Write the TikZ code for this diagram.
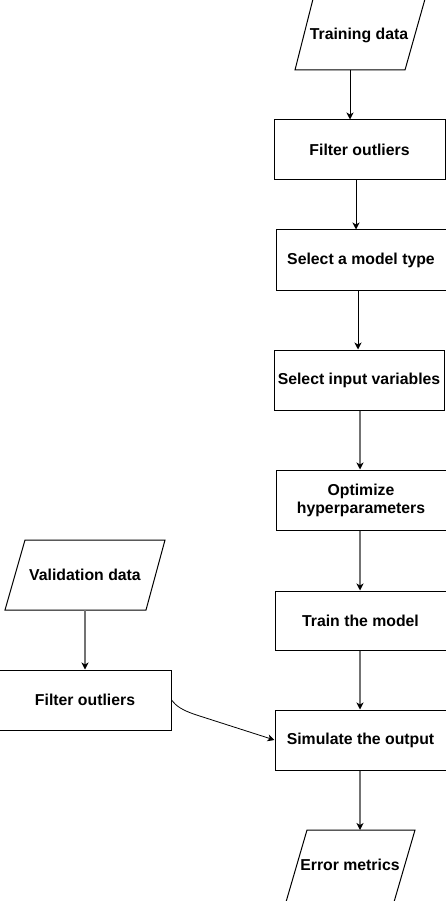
\documentclass[tikz,border=0pt]{standalone}
\usepackage{fontspec}
\setmainfont{Liberation Sans}
\usetikzlibrary{arrows.meta}
\tikzset{
  lbl/.style={inner sep=0pt, align=center, font=\bfseries\fontsize{15.8}{18}\selectfont},
  box/.style={lbl, draw=black, line width=1pt, fill=white, minimum width=171pt, minimum height=60pt},
  para/.style={draw=black, line width=1pt},
  blk/.style={draw=black, line width=1pt, -{Stealth[length=7pt,width=7pt,inset=2pt]}},
  gry/.style={draw=black!55, line width=1.3pt, -{Stealth[length=7pt,width=7pt,inset=2pt,color=black]}},
  thn/.style={draw=black, line width=0.8pt, -{Stealth[length=7pt,width=7pt,inset=2pt]}}
}
\begin{document}
\begin{tikzpicture}[x=1pt,y=-1pt]
\fill[white] (0,0) rectangle (446,901);
\useasboundingbox (0,0) rectangle (446,901);
% parallelograms
\draw[para] (313,-1) -- (425,-1) -- (405,70) -- (295,70) -- cycle;
\node[lbl] (train) at (359,35) {Training data};
\coordinate (trainB) at (350,70);
\draw[para] (25,540) -- (165,540) -- (146,610) -- (5,610) -- cycle;
\node[lbl] (valid) at (85,575) {Validation data};
\coordinate (validB) at (85,610);
\draw[para] (307,830) -- (415,830) -- (394,902) -- (286,902) -- cycle;
\node[lbl] (err) at (350,865) {Error metrics};
\coordinate (errT) at (360,830);
% boxes
\node[box] (filt1) at (359.5,150) {Filter outliers};
\node[box, minimum width=170pt] (sel) at (361,260) {Select a model type};
\node[box, minimum width=170pt] (inp) at (359,380) {Select input variables};
\node[box, minimum width=170pt] (opt) at (361,500) {Optimize\\hyperparameters};
\node[box, minimum height=59pt] (trn) at (360.5,620.5) {Train the model};
\node[box] (sim) at (360.5,740) {Simulate the output};
\node[box, minimum width=172pt] (filt2) at (85,700) {Filter outliers};
% connectors
\draw[blk] (trainB) -- (trainB |- filt1.north);
\draw[blk] ([xshift=-3.5pt]filt1.south) -- ([xshift=-3.5pt]filt1.south |- sel.north);
\draw[blk] ([xshift=-3pt]sel.south) -- ([xshift=-3pt]sel.south |- inp.north);
\draw[gry] ([xshift=1pt]inp.south) -- ([xshift=1pt]inp.south |- opt.north);
\draw[gry] ([xshift=-1pt]opt.south) -- ([xshift=-1pt]opt.south |- trn.north);
\draw[gry] ([xshift=-0.5pt]trn.south) -- ([xshift=-0.5pt]trn.south |- sim.north);
\draw[gry] (errT |- sim.south) -- (errT);
\draw[gry] (validB) -- (validB |- filt2.north);
\draw[thn] (filt2.east) .. controls (176,706) and (182,710) .. (195,714.5) -- (sim.west);
\end{tikzpicture}
\end{document}
